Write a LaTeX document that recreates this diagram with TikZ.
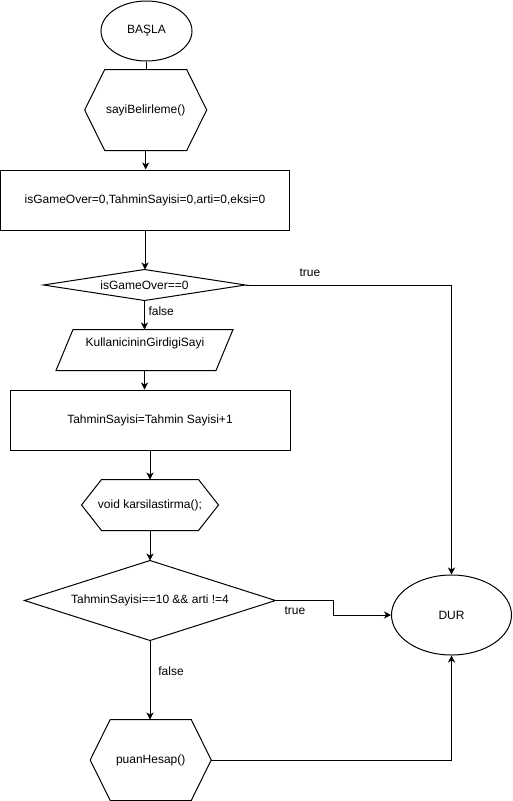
\documentclass[tikz,border=0pt]{standalone}
\usepackage{fontspec}
\setmainfont{Liberation Sans}
\usetikzlibrary{arrows.meta,shapes.geometric}
\newcommand\hexout[2]{\draw ([xshift=#2]#1.north west) -- ([xshift=-#2]#1.north east) -- (#1.east) -- ([xshift=-#2]#1.south east) -- ([xshift=#2]#1.south west) -- (#1.west) -- cycle;}
\newcommand\diaout[1]{\draw (#1.north) -- (#1.east) -- (#1.south) -- (#1.west) -- cycle;}
\newcommand\parout[2]{\draw ([xshift=#2]#1.north west) -- (#1.north east) -- ([xshift=-#2]#1.south east) -- (#1.south west) -- cycle;}
\begin{document}
\begin{tikzpicture}[x=1pt,y=-1pt,line width=1pt,font=\fontsize{12}{14}\selectfont,
  term/.style={ellipse,draw,inner sep=0pt},
  box/.style={rectangle,inner sep=0pt,draw=none},
  procbox/.style={rectangle,inner sep=0pt,draw},
  lbl/.style={inner sep=1pt},
  arr/.style={-{Stealth[length=7pt,width=7pt,inset=2pt]}}]
\useasboundingbox (0,0) rectangle (512,801);
% nodes
\node[term,minimum width=91,minimum height=60] (start) at (146.5,31) {BAŞLA};
\node[box,minimum width=121,minimum height=80] (hex1) at (145.7,110) {sayiBelirleme()};
\node[procbox,minimum width=289,minimum height=60] (rect1) at (145,200) {isGameOver=0,TahminSayisi=0,arti=0,eksi=0};
\node[box,minimum width=201,minimum height=30] (d1) at (144.5,285) {isGameOver==0};
\node[box,minimum width=176,minimum height=40] (p) at (144.5,350) {};
\node[lbl] (ptext) at (145,343) {KullanicininGirdigiSayi};
\node[procbox,minimum width=280,minimum height=60] (r2) at (150,420) {TahminSayisi=Tahmin Sayisi+1};
\node[box,minimum width=136,minimum height=50] (hex2) at (150,505) {void karsilastirma();};
\node[box,minimum width=250,minimum height=79] (d2) at (150,600.5) {TahminSayisi==10 \&\& arti !=4};
\node[term,minimum width=120,minimum height=80] (dur) at (451.5,615) {DUR};
\node[box,minimum width=120,minimum height=80] (hex3) at (150.7,760) {puanHesap()};
% outlines
\hexout{hex1}{20pt}
\hexout{hex2}{20pt}
\hexout{hex3}{20pt}
\diaout{d1}
\diaout{d2}
\parout{p}{17pt}
% connectors
\draw (start.south) -- (start.south |- hex1.north);
\draw[arr] (hex1.south) -- (hex1.south |- rect1.north);
\draw[arr] (rect1.south) -- (rect1.south |- d1.north);
\draw[arr] (d1.east) -| (dur.north);
\draw[arr] (d1.south) -- (d1.south |- p.north);
\draw[arr] (p.south) -- (p.south |- r2.north);
\draw[arr] (r2.south) -- (hex2.north);
\draw[arr] (hex2.south) -- (d2.north);
\draw[arr] (d2.east) -- ++(58,0) |- (dur.west);
\draw[arr] (d2.south) -- (d2.south |- hex3.north);
\draw[arr] (hex3.east) -| (dur.south);
% labels
\node[lbl] (t1) at (310,273) {true};
\node[lbl,anchor=west] (f1) at (147,311) {false};
\node[lbl] (t2) at (295,611) {true};
\node[lbl] (f2) at (171,671) {false};
\end{tikzpicture}
\end{document}
